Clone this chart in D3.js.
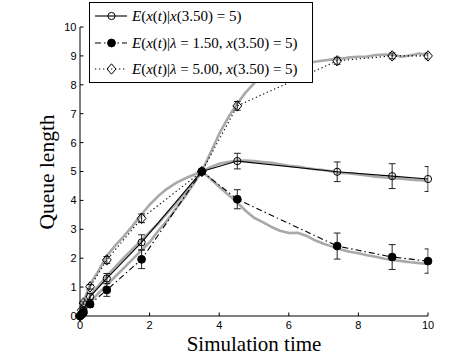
<!DOCTYPE html>
<html>
<head>
<meta charset="utf-8">
<script src="https://cdn.jsdelivr.net/npm/d3@7"></script>
<style>
  html, body { margin: 0; padding: 0; background: #fff; }
  svg { display: block; }
</style>
</head>
<body>
<svg id="chart" width="474" height="355"></svg>
<script>
// ---------- data ----------
const times = [0, 0.05, 0.1, 0.29, 0.77, 1.77, 3.5, 4.52, 7.39, 8.97, 10];
const meanA = [0, 0.08, 0.2, 0.67, 1.3, 2.55, 5.0, 5.36, 4.99, 4.84, 4.74];
const errA  = [0, 0.02, 0.05, 0.1, 0.17, 0.26, 0, 0.27, 0.34, 0.43, 0.43];
const meanB = [0, 0.05, 0.12, 0.41, 0.9, 1.96, 5.0, 4.04, 2.42, 2.04, 1.9];
const errB  = [0, 0.02, 0.04, 0.1, 0.22, 0.32, 0, 0.33, 0.45, 0.43, 0.42];
const meanC = [0, 0.2, 0.45, 1.01, 1.94, 3.38, 5.0, 7.27, 8.83, 9.0, 9.0];
const errC  = [0, 0.02, 0.04, 0.08, 0.12, 0.15, 0, 0.15, 0.12, 0.1, 0.1];

const simTimes = [0,0.1,0.3,0.5,0.77,1,1.25,1.5,1.77,2,2.25,2.5,2.75,3,3.25,3.5,
  3.75,4,4.25,4.5,4.75,5,5.25,5.5,5.75,6,6.25,6.5,6.75,7,7.25,7.5,7.75,8,8.25,8.5,8.75,9,9.25,9.5,9.75,10];
const simA = [0,0.2,0.72,1.0,1.38,1.68,2.0,2.3,2.62,2.9,3.2,3.55,3.88,4.25,4.62,5.0,
  5.15,5.27,5.33,5.37,5.38,5.36,5.33,5.3,5.25,5.2,5.17,5.12,5.08,5.05,5.0,4.95,4.93,4.9,4.86,4.82,4.79,4.77,4.75,4.72,4.7,4.68];
const simB = [0,0.15,0.5,0.75,1.08,1.35,1.65,1.95,2.28,2.55,2.95,3.3,3.7,4.1,4.55,5.0,
  4.75,4.47,4.2,3.95,3.65,3.4,3.25,3.08,2.95,2.87,2.88,2.78,2.62,2.5,2.4,2.3,2.22,2.17,2.1,2.05,1.98,1.94,1.9,1.86,1.83,1.8];
const simC = [0,0.5,1.12,1.5,2.08,2.42,2.75,3.1,3.52,3.85,4.15,4.4,4.6,4.75,4.88,5.0,
  5.65,6.3,6.85,7.32,7.72,8.05,8.3,8.45,8.58,8.65,8.72,8.75,8.8,8.84,8.88,8.9,8.95,8.97,8.98,9.03,9.05,9.04,8.97,9.02,9.08,9.04];

const xTicks = [0, 2, 4, 6, 8, 10];
const yTicks = [0, 1, 2, 3, 4, 5, 6, 7, 8, 9, 10];
const xLabel = "Simulation time";
const yLabel = "Queue length";
const legendItems = [
  [["E", 1], ["(", 0], ["x", 1], ["(", 0], ["t", 1], [")|", 0], ["x", 1], ["(3.50) = 5)", 0]],
  [["E", 1], ["(", 0], ["x", 1], ["(", 0], ["t", 1], [")|", 0], ["λ", 1], [" = 1.50, ", 0], ["x", 1], ["(3.50) = 5)", 0]],
  [["E", 1], ["(", 0], ["x", 1], ["(", 0], ["t", 1], [")|", 0], ["λ", 1], [" = 5.00, ", 0], ["x", 1], ["(3.50) = 5)", 0]]
];

// ---------- layout ----------
const svg = d3.select("#chart");
const L = 80, R = 428, T = 27, B = 316;
const x = d3.scaleLinear().domain([0, 10]).range([L, R]);
const y = d3.scaleLinear().domain([0, 10]).range([B, T]);

svg.append("defs").append("clipPath").attr("id", "clip")
  .append("rect").attr("x", L).attr("y", 0).attr("width", R - L + 0.5).attr("height", B + 1);

const plot = svg.append("g");

// gray simulation curves
const simLine = d3.line().x((d, i) => x(simTimes[i])).y(d => y(d)).curve(d3.curveLinear);
[simA, simB, simC].forEach(s => {
  plot.append("path").datum(s).attr("d", simLine)
    .attr("fill", "none").attr("stroke", "#a9a9a9").attr("stroke-width", 2.6)
    .attr("stroke-linejoin", "round");
});

// model lines
const mLine = d3.line().x((d, i) => x(times[i])).y(d => y(d));
const series = [
  { mean: meanA, err: errA, dash: null, marker: "open" },
  { mean: meanB, err: errB, dash: "6,3,1.5,3", marker: "filled" },
  { mean: meanC, err: errC, dash: "1.3,2.7", marker: "diamond" }
];
series.forEach(s => {
  plot.append("path").datum(s.mean).attr("d", mLine)
    .attr("fill", "none").attr("stroke", "#000").attr("stroke-width", 1.1)
    .attr("stroke-dasharray", s.dash);
});

// error bars
const eb = plot.append("g").attr("clip-path", "url(#clip)")
  .attr("stroke", "#222").attr("stroke-width", 1);
series.forEach(s => {
  s.mean.forEach((m, i) => {
    if (s.err[i] <= 0) return;
    const cx = x(times[i]), y1 = y(m - s.err[i]), y2 = y(m + s.err[i]);
    eb.append("line").attr("x1", cx).attr("x2", cx).attr("y1", y1).attr("y2", y2);
    eb.append("line").attr("x1", cx - 3.4).attr("x2", cx + 3.4).attr("y1", y1).attr("y2", y1);
    eb.append("line").attr("x1", cx - 3.4).attr("x2", cx + 3.4).attr("y1", y2).attr("y2", y2);
  });
});

function drawMarker(g, type, cx, cy) {
  if (type === "open") {
    g.append("circle").attr("cx", cx).attr("cy", cy).attr("r", 3.6)
      .attr("fill", "none").attr("stroke", "#000").attr("stroke-width", 1);
  } else if (type === "filled") {
    g.append("circle").attr("cx", cx).attr("cy", cy).attr("r", 3.9)
      .attr("fill", "#000").attr("stroke", "#000").attr("stroke-width", 1);
  } else {
    g.append("path").attr("d", `M${cx},${cy - 5.2}L${cx + 4.4},${cy}L${cx},${cy + 5.2}L${cx - 4.4},${cy}Z`)
      .attr("fill", "none").attr("stroke", "#000").attr("stroke-width", 1);
  }
}
const mk = plot.append("g");
series.forEach(s => {
  s.mean.forEach((m, i) => drawMarker(mk, s.marker, x(times[i]), y(m)));
});

// ---------- axes ----------
const axG = svg.append("g").attr("font-family", "'Liberation Sans', Arial, sans-serif").attr("font-size", 11);
axG.append("line").attr("x1", L).attr("x2", R).attr("y1", B).attr("y2", B).attr("stroke", "#000");
axG.append("line").attr("x1", L).attr("x2", L).attr("y1", B).attr("y2", T).attr("stroke", "#000");
xTicks.forEach(t => {
  axG.append("line").attr("x1", x(t)).attr("x2", x(t)).attr("y1", B).attr("y2", B - 3.5).attr("stroke", "#000");
  axG.append("text").attr("x", x(t)).attr("y", B + 13).attr("text-anchor", "middle").text(t);
});
yTicks.forEach(t => {
  axG.append("line").attr("x1", L).attr("x2", L + 3.5).attr("y1", y(t)).attr("y2", y(t)).attr("stroke", "#000");
  axG.append("text").attr("x", L - 3.5).attr("y", y(t)).attr("dy", "0.36em").attr("text-anchor", "end").text(t);
});

svg.append("text").attr("x", 254).attr("y", 351).attr("text-anchor", "middle")
  .attr("font-family", "'Liberation Serif', 'Times New Roman', serif").attr("font-size", 21)
  .text(xLabel);
svg.append("text").attr("transform", "translate(54,172) rotate(-90)").attr("text-anchor", "middle")
  .attr("font-family", "'Liberation Serif', 'Times New Roman', serif").attr("font-size", 21.5)
  .text(yLabel);

// ---------- legend ----------
const lg = svg.append("g");
lg.append("rect").attr("x", 89.5).attr("y", 2.5).attr("width", 223).attr("height", 80)
  .attr("fill", "#fff").attr("stroke", "#000").attr("stroke-width", 1);
const legY = [16, 43, 69];
series.forEach((s, i) => {
  lg.append("line").attr("x1", 95).attr("x2", 127).attr("y1", legY[i]).attr("y2", legY[i])
    .attr("stroke", "#000").attr("stroke-width", 1.1).attr("stroke-dasharray", s.dash);
  drawMarker(lg, s.marker, 111.5, legY[i]);
  const tx = lg.append("text").attr("x", 132).attr("y", legY[i]).attr("dy", "0.33em")
    .attr("font-family", "'Liberation Serif', 'Times New Roman', serif").attr("font-size", 15);
  legendItems[i].forEach(p => {
    tx.append("tspan").attr("font-style", p[1] ? "italic" : "normal").attr("xml:space", "preserve").text(p[0]);
  });
});
</script>
</body>
</html>
